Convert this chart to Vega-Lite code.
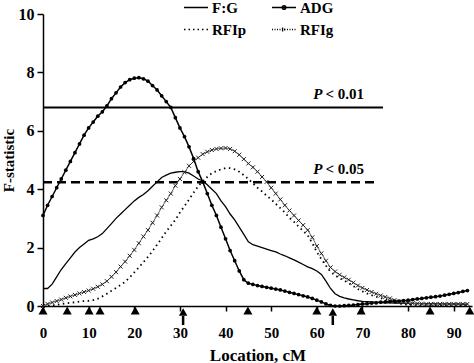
{
"$schema": "https://vega.github.io/schema/vega-lite/v6.json",
"width": 429, "height": 292,
"autosize": {"type": "none"},
"padding": {"left": 43, "top": 14, "right": 2, "bottom": 57},
"background": "white",
"config": {
  "view": {"stroke": null},
  "font": "Liberation Serif",
  "axis": {"domainColor": "black", "domainWidth": 1.5, "tickColor": "black", "tickWidth": 1.5, "labelColor": "black", "titleColor": "black", "labelFont": "Liberation Serif", "titleFont": "Liberation Serif", "labelFontWeight": "bold", "titleFontWeight": "bold", "labelFontSize": 15, "grid": false},
  "legend": {"labelFont": "Liberation Serif", "labelFontWeight": "bold", "labelFontSize": 15, "labelColor": "black"}
},
"datasets": {
  "curves": [
{"cM":0,"FG":0.6,"ADG":3.1,"RFIp":0,"RFIg":0},
{"cM":1,"FG":0.6,"ADG":3.45,"RFIp":0,"RFIg":0.07},
{"cM":2,"FG":0.75,"ADG":3.75,"RFIp":0.02,"RFIg":0.12},
{"cM":3,"FG":1.0,"ADG":4.05,"RFIp":0.04,"RFIg":0.17},
{"cM":4,"FG":1.25,"ADG":4.35,"RFIp":0.07,"RFIg":0.22},
{"cM":5,"FG":1.45,"ADG":4.65,"RFIp":0.09,"RFIg":0.28},
{"cM":6,"FG":1.65,"ADG":4.95,"RFIp":0.11,"RFIg":0.33},
{"cM":7,"FG":1.85,"ADG":5.25,"RFIp":0.13,"RFIg":0.38},
{"cM":8,"FG":2.0,"ADG":5.55,"RFIp":0.15,"RFIg":0.43},
{"cM":9,"FG":2.12,"ADG":5.85,"RFIp":0.17,"RFIg":0.48},
{"cM":10,"FG":2.25,"ADG":6.1,"RFIp":0.18,"RFIg":0.53},
{"cM":11,"FG":2.3,"ADG":6.3,"RFIp":0.2,"RFIg":0.59},
{"cM":12,"FG":2.37,"ADG":6.5,"RFIp":0.25,"RFIg":0.66},
{"cM":13,"FG":2.48,"ADG":6.65,"RFIp":0.33,"RFIg":0.74},
{"cM":14,"FG":2.65,"ADG":6.85,"RFIp":0.42,"RFIg":0.85},
{"cM":15,"FG":2.82,"ADG":7.1,"RFIp":0.52,"RFIg":1.0},
{"cM":16,"FG":3.0,"ADG":7.3,"RFIp":0.62,"RFIg":1.16},
{"cM":17,"FG":3.15,"ADG":7.5,"RFIp":0.72,"RFIg":1.35},
{"cM":18,"FG":3.3,"ADG":7.65,"RFIp":0.83,"RFIg":1.52},
{"cM":19,"FG":3.45,"ADG":7.75,"RFIp":0.98,"RFIg":1.72},
{"cM":20,"FG":3.6,"ADG":7.8,"RFIp":1.15,"RFIg":1.92},
{"cM":21,"FG":3.72,"ADG":7.82,"RFIp":1.32,"RFIg":2.15},
{"cM":22,"FG":3.82,"ADG":7.78,"RFIp":1.5,"RFIg":2.38},
{"cM":23,"FG":3.95,"ADG":7.7,"RFIp":1.68,"RFIg":2.6},
{"cM":24,"FG":4.1,"ADG":7.55,"RFIp":1.88,"RFIg":2.85},
{"cM":25,"FG":4.25,"ADG":7.4,"RFIp":2.1,"RFIg":3.1},
{"cM":26,"FG":4.4,"ADG":7.2,"RFIp":2.32,"RFIg":3.38},
{"cM":27,"FG":4.48,"ADG":7.0,"RFIp":2.55,"RFIg":3.62},
{"cM":28,"FG":4.55,"ADG":6.8,"RFIp":2.75,"RFIg":3.85},
{"cM":29,"FG":4.58,"ADG":6.45,"RFIp":2.95,"RFIg":4.12},
{"cM":30,"FG":4.6,"ADG":6.1,"RFIp":3.2,"RFIg":4.35},
{"cM":31,"FG":4.6,"ADG":5.8,"RFIp":3.42,"RFIg":4.58},
{"cM":32,"FG":4.55,"ADG":5.45,"RFIp":3.65,"RFIg":4.8},
{"cM":33,"FG":4.45,"ADG":5.05,"RFIp":3.88,"RFIg":4.95},
{"cM":34,"FG":4.35,"ADG":4.6,"RFIp":4.1,"RFIg":5.08},
{"cM":35,"FG":4.28,"ADG":4.25,"RFIp":4.28,"RFIg":5.2},
{"cM":36,"FG":4.15,"ADG":3.85,"RFIp":4.42,"RFIg":5.28},
{"cM":37,"FG":4.0,"ADG":3.45,"RFIp":4.55,"RFIg":5.34},
{"cM":38,"FG":3.85,"ADG":3.1,"RFIp":4.62,"RFIg":5.38},
{"cM":39,"FG":3.6,"ADG":2.7,"RFIp":4.68,"RFIg":5.4},
{"cM":40,"FG":3.4,"ADG":2.3,"RFIp":4.72,"RFIg":5.41},
{"cM":41,"FG":3.15,"ADG":1.9,"RFIp":4.72,"RFIg":5.38},
{"cM":42,"FG":2.95,"ADG":1.55,"RFIp":4.68,"RFIg":5.3},
{"cM":43,"FG":2.7,"ADG":1.2,"RFIp":4.6,"RFIg":5.18},
{"cM":44,"FG":2.45,"ADG":0.9,"RFIp":4.48,"RFIg":5.03},
{"cM":45,"FG":2.2,"ADG":0.78,"RFIp":4.35,"RFIg":4.88},
{"cM":46,"FG":2.1,"ADG":0.74,"RFIp":4.2,"RFIg":4.75},
{"cM":47,"FG":2.05,"ADG":0.7,"RFIp":4.05,"RFIg":4.6},
{"cM":48,"FG":2.0,"ADG":0.67,"RFIp":3.92,"RFIg":4.42},
{"cM":49,"FG":1.95,"ADG":0.64,"RFIp":3.78,"RFIg":4.25},
{"cM":50,"FG":1.9,"ADG":0.61,"RFIp":3.65,"RFIg":4.05},
{"cM":51,"FG":1.85,"ADG":0.58,"RFIp":3.5,"RFIg":3.85},
{"cM":52,"FG":1.78,"ADG":0.55,"RFIp":3.35,"RFIg":3.65},
{"cM":53,"FG":1.72,"ADG":0.51,"RFIp":3.2,"RFIg":3.45},
{"cM":54,"FG":1.65,"ADG":0.47,"RFIp":3.02,"RFIg":3.27},
{"cM":55,"FG":1.58,"ADG":0.43,"RFIp":2.88,"RFIg":3.1},
{"cM":56,"FG":1.5,"ADG":0.39,"RFIp":2.72,"RFIg":2.93},
{"cM":57,"FG":1.42,"ADG":0.35,"RFIp":2.57,"RFIg":2.77},
{"cM":58,"FG":1.34,"ADG":0.31,"RFIp":2.42,"RFIg":2.6},
{"cM":59,"FG":1.28,"ADG":0.26,"RFIp":2.15,"RFIg":2.35},
{"cM":60,"FG":1.2,"ADG":0.2,"RFIp":1.85,"RFIg":2.05},
{"cM":61,"FG":1.08,"ADG":0.14,"RFIp":1.6,"RFIg":1.8},
{"cM":62,"FG":0.85,"ADG":0.07,"RFIp":1.38,"RFIg":1.55},
{"cM":63,"FG":0.6,"ADG":0.02,"RFIp":1.17,"RFIg":1.32},
{"cM":64,"FG":0.42,"ADG":0.0,"RFIp":1.05,"RFIg":1.18},
{"cM":65,"FG":0.33,"ADG":0.0,"RFIp":0.95,"RFIg":1.07},
{"cM":66,"FG":0.28,"ADG":0.01,"RFIp":0.87,"RFIg":0.98},
{"cM":67,"FG":0.24,"ADG":0.02,"RFIp":0.78,"RFIg":0.9},
{"cM":68,"FG":0.21,"ADG":0.03,"RFIp":0.68,"RFIg":0.8},
{"cM":69,"FG":0.18,"ADG":0.05,"RFIp":0.58,"RFIg":0.7},
{"cM":70,"FG":0.16,"ADG":0.07,"RFIp":0.5,"RFIg":0.62},
{"cM":71,"FG":0.15,"ADG":0.08,"RFIp":0.43,"RFIg":0.55},
{"cM":72,"FG":0.14,"ADG":0.1,"RFIp":0.37,"RFIg":0.48},
{"cM":73,"FG":0.13,"ADG":0.11,"RFIp":0.32,"RFIg":0.42},
{"cM":74,"FG":0.12,"ADG":0.13,"RFIp":0.27,"RFIg":0.36},
{"cM":75,"FG":0.11,"ADG":0.14,"RFIp":0.23,"RFIg":0.31},
{"cM":76,"FG":0.11,"ADG":0.15,"RFIp":0.18,"RFIg":0.26},
{"cM":77,"FG":0.1,"ADG":0.16,"RFIp":0.13,"RFIg":0.2},
{"cM":78,"FG":0.1,"ADG":0.17,"RFIp":0.09,"RFIg":0.15},
{"cM":79,"FG":0.1,"ADG":0.18,"RFIp":0.06,"RFIg":0.12},
{"cM":80,"FG":0.09,"ADG":0.2,"RFIp":0.04,"RFIg":0.1},
{"cM":81,"FG":0.09,"ADG":0.22,"RFIp":0.03,"RFIg":0.09},
{"cM":82,"FG":0.09,"ADG":0.24,"RFIp":0.03,"RFIg":0.08},
{"cM":83,"FG":0.08,"ADG":0.26,"RFIp":0.03,"RFIg":0.08},
{"cM":84,"FG":0.08,"ADG":0.28,"RFIp":0.03,"RFIg":0.07},
{"cM":85,"FG":0.08,"ADG":0.3,"RFIp":0.03,"RFIg":0.07},
{"cM":86,"FG":0.08,"ADG":0.32,"RFIp":0.03,"RFIg":0.07},
{"cM":87,"FG":0.07,"ADG":0.34,"RFIp":0.03,"RFIg":0.07},
{"cM":88,"FG":0.07,"ADG":0.37,"RFIp":0.03,"RFIg":0.07},
{"cM":89,"FG":0.07,"ADG":0.4,"RFIp":0.03,"RFIg":0.07},
{"cM":90,"FG":0.07,"ADG":0.43,"RFIp":0.03,"RFIg":0.07},
{"cM":91,"FG":0.07,"ADG":0.46,"RFIp":0.03,"RFIg":0.07},
{"cM":92,"FG":0.06,"ADG":0.5,"RFIp":0.03,"RFIg":0.07},
{"cM":93,"FG":0.06,"ADG":0.53,"RFIp":0.03,"RFIg":0.07}
  ],
  "thresholds": [
    {"p": "0.01", "F": 6.8, "cM": 0, "cM2": 74.5},
    {"p": "0.05", "F": 4.24, "cM": 0, "cM2": 73.4}
  ],
  "labels": [
    {"p": "0.01", "cM": 61.2, "cM2": 61.9, "F": 7.09, "rest": "< 0.01"},
    {"p": "0.05", "cM": 61.2, "cM2": 61.9, "F": 4.52, "rest": "< 0.05"}
  ],
  "markers": [{"cM": 0}, {"cM": 5.3}, {"cM": 10.1}, {"cM": 12.5}, {"cM": 20.2}, {"cM": 44.9}, {"cM": 60.0}, {"cM": 69.7}, {"cM": 84.8}, {"cM": 93.5}],
  "arrows": [{"cM": 30.7}, {"cM": 63.5}],
  "series": [{"series": "F:G"}, {"series": "ADG"}, {"series": "RFIp"}, {"series": "RFIg"}]
},
"layer": [
  {
    "data": {"name": "thresholds"},
    "transform": [{"filter": "datum.p === '0.01'"}],
    "mark": {"type": "rule", "color": "black", "strokeWidth": 2},
    "encoding": {
      "x": {"field": "cM", "type": "quantitative", "scale": {"domain": [0, 94], "nice": false, "zero": false}, "title": "Location, cM",
        "axis": {"values": [0,5,10,15,20,25,30,35,40,45,50,55,60,65,70,75,80,85,90], "labelExpr": "datum.value % 10 === 0 ? datum.label : ''", "tickSize": 5, "labelPadding": 14, "labelFlush": false, "titleFontSize": 17, "titlePadding": 7}},
      "x2": {"field": "cM2"},
      "y": {"field": "F", "type": "quantitative", "scale": {"domain": [0, 10], "nice": false}, "title": "F-statistic",
        "axis": {"values": [0,2,4,6,8,10], "tickSize": 6, "labelPadding": 3, "labelFontSize": 16, "titleFontSize": 15, "titlePadding": 2}}
    }
  },
  {
    "data": {"name": "thresholds"},
    "transform": [{"filter": "datum.p === '0.05'"}],
    "mark": {"type": "rule", "color": "black", "strokeWidth": 2.5, "strokeDash": [9, 5]},
    "encoding": {
      "x": {"field": "cM", "type": "quantitative", "title": "Location, cM"},
      "x2": {"field": "cM2"},
      "y": {"field": "F", "type": "quantitative", "title": "F-statistic"}
    }
  },
  {
    "data": {"name": "curves"},
    "mark": {"type": "line", "color": "black", "strokeWidth": 1.3},
    "encoding": {
      "x": {"field": "cM", "type": "quantitative", "title": "Location, cM"},
      "y": {"field": "FG", "type": "quantitative", "title": "F-statistic"}
    }
  },
  {
    "data": {"name": "curves"},
    "mark": {"type": "line", "color": "black", "strokeWidth": 1.8, "strokeDash": [1.5, 3.5]},
    "encoding": {
      "x": {"field": "cM", "type": "quantitative", "title": "Location, cM"},
      "y": {"field": "RFIp", "type": "quantitative", "title": "F-statistic"}
    }
  },
  {
    "data": {"name": "curves"},
    "mark": {"type": "line", "color": "#666666", "strokeWidth": 1},
    "encoding": {
      "x": {"field": "cM", "type": "quantitative", "title": "Location, cM"},
      "y": {"field": "RFIg", "type": "quantitative", "title": "F-statistic"}
    }
  },
  {
    "data": {"name": "curves"},
    "mark": {"type": "point", "shape": "M-1,-1L1,1M-1,1L1,-1", "size": 16, "color": "#222222", "strokeWidth": 1, "filled": false, "opacity": 1},
    "encoding": {
      "x": {"field": "cM", "type": "quantitative", "title": "Location, cM"},
      "y": {"field": "RFIg", "type": "quantitative", "title": "F-statistic"}
    }
  },
  {
    "data": {"name": "curves"},
    "mark": {"type": "line", "color": "black", "strokeWidth": 1.5},
    "encoding": {
      "x": {"field": "cM", "type": "quantitative", "title": "Location, cM"},
      "y": {"field": "ADG", "type": "quantitative", "title": "F-statistic"}
    }
  },
  {
    "data": {"name": "curves"},
    "mark": {"type": "point", "shape": "circle", "size": 14, "color": "black", "filled": true, "opacity": 1},
    "encoding": {
      "x": {"field": "cM", "type": "quantitative", "title": "Location, cM"},
      "y": {"field": "ADG", "type": "quantitative", "title": "F-statistic"}
    }
  },
  {
    "data": {"name": "labels"},
    "mark": {"type": "text", "font": "Liberation Serif", "fontSize": 15, "fontWeight": "bold", "fontStyle": "italic", "align": "right", "baseline": "alphabetic", "color": "black", "text": "P"},
    "encoding": {
      "x": {"field": "cM", "type": "quantitative", "title": "Location, cM"},
      "y": {"field": "F", "type": "quantitative", "title": "F-statistic"}
    }
  },
  {
    "data": {"name": "labels"},
    "mark": {"type": "text", "font": "Liberation Serif", "fontSize": 15, "fontWeight": "bold", "align": "left", "baseline": "alphabetic", "color": "black"},
    "encoding": {
      "x": {"field": "cM2", "type": "quantitative", "title": "Location, cM"},
      "y": {"field": "F", "type": "quantitative", "title": "F-statistic"},
      "text": {"field": "rest"}
    }
  },
  {
    "data": {"name": "markers"},
    "mark": {"type": "point", "shape": "triangle-up", "size": 81, "filled": true, "color": "black", "opacity": 1, "yOffset": 4.5},
    "encoding": {
      "x": {"field": "cM", "type": "quantitative", "title": "Location, cM"},
      "y": {"datum": 0, "type": "quantitative", "title": "F-statistic"}
    }
  },
  {
    "data": {"name": "arrows"},
    "mark": {"type": "rule", "color": "black", "strokeWidth": 2.5, "yOffset": 10, "y2Offset": 19},
    "encoding": {
      "x": {"field": "cM", "type": "quantitative", "title": "Location, cM"},
      "y": {"datum": 0, "type": "quantitative", "title": "F-statistic"},
      "y2": {"datum": 0}
    }
  },
  {
    "data": {"name": "arrows"},
    "mark": {"type": "point", "shape": "triangle-up", "size": 72, "filled": true, "color": "black", "opacity": 1, "yOffset": 6},
    "encoding": {
      "x": {"field": "cM", "type": "quantitative", "title": "Location, cM"},
      "y": {"datum": 0, "type": "quantitative", "title": "F-statistic"}
    }
  },
  {
    "data": {"name": "series"},
    "mark": {"type": "point", "color": "black", "filled": false, "opacity": 0, "strokeWidth": 1.5},
    "encoding": {
      "shape": {"field": "series", "type": "nominal",
        "scale": {"domain": ["F:G", "RFIp", "ADG", "RFIg"], "range": ["M-1,0H1", "M-1,0H1", "M-1,0H1M-0.15,0A0.15,0.15,0,1,1,0.15,0A0.15,0.15,0,1,1,-0.15,0", "M-1,0H1M-0.15,-0.15L0.15,0.15M-0.15,0.15L0.15,-0.15"]},
        "legend": {"title": null, "orient": "none", "legendX": 140, "legendY": -19.5, "columns": 2, "columnPadding": 22, "rowPadding": 1, "symbolSize": 576, "symbolStrokeWidth": 1.5, "symbolStrokeColor": "black", "symbolFillColor": "black", "symbolOpacity": 1, "labelOffset": 3, "padding": 0}},
      "strokeDash": {"field": "series", "type": "nominal",
        "scale": {"domain": ["F:G", "RFIp", "ADG", "RFIg"], "range": [[1, 0], [1.5, 3], [1, 0], [1, 1.5]]},
        "legend": {"title": null, "orient": "none", "legendX": 140, "legendY": -19.5, "columns": 2, "columnPadding": 22, "rowPadding": 1, "symbolSize": 576, "symbolStrokeWidth": 1.5, "symbolStrokeColor": "black", "symbolFillColor": "black", "symbolOpacity": 1, "labelOffset": 3, "padding": 0}}
    }
  }
]
}
